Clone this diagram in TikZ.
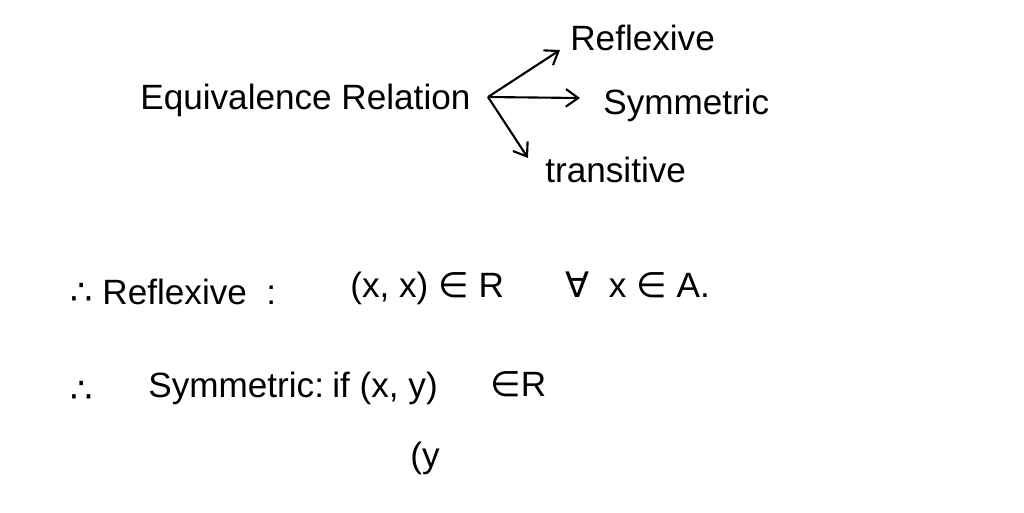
\documentclass[tikz,border=0pt]{standalone}
\usetikzlibrary{arrows.meta}
\usepackage{fontspec}
\setmainfont{Liberation Sans}
\newfontfamily\symf{DejaVu Sans}
\begin{document}
\begin{tikzpicture}[x=0.02cm,y=-0.02cm,
  txt/.style={font=\fontsize{20}{24}\selectfont,inner sep=0pt,anchor=west},
  arr/.style={-{Straight Barb[length=7pt,width=10pt]},line width=1.2pt}]
\useasboundingbox[fill=white] (0,0) rectangle (1024,512);
\node[txt] (eq) at (140,100) {Equivalence Relation};
\coordinate (o) at (488,97);
\node[txt] (r) at (570,38) {Reflexive};
\node[txt] (s) at (603,105) {Symmetric};
\node[txt] (t) at (545,170) {transitive};
\draw[arr] (o) -- (560,50);
\draw[arr] (o) -- (580,98);
\draw[arr] (o) -- (528,158);
\node[txt] (l1) at (70,292) {{\symf ∴}\ Reflexive\ \ :};
\node[txt] (l1b) at (350,288) {(x, x)\ {\symf ∈} R};
\node[txt] (l1c) at (565,285) {{\symf ∀}\ \ x\ {\symf ∈} A.};
\node[txt] (l2) at (70,392) {{\symf ∴}};
\node[txt] (l2b) at (148,388) {Symmetric:};
\node[txt] (l2c) at (332,388) {if (x, y)};
\node[txt] (l2d) at (490,384) {{\symf ∈}R};
\node[txt] (l3) at (410,458) {(y};
\end{tikzpicture}
\end{document}
